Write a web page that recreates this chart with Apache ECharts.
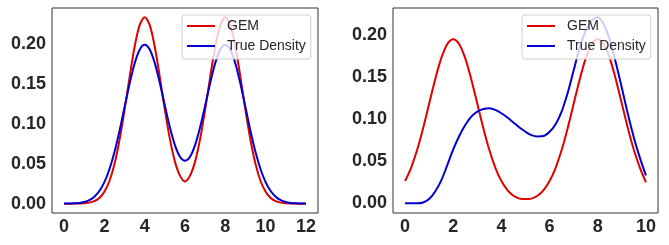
<!DOCTYPE html>
<html>
<head>
<meta charset="utf-8">
<script src="https://cdn.jsdelivr.net/npm/echarts@6/dist/echarts.min.js"></script>
<style>
  html, body { margin: 0; padding: 0; background: #fff; }
  #chart { width: 669px; height: 245px; }
</style>
</head>
<body>
<div id="chart"></div>
<script>
// left panel: x from 0 to 12, step 0.25
var leftX = [];
for (var i = 0; i <= 48; i++) leftX.push(i * 0.25);
var leftGem = [0, 0, 0.0001, 0.0002, 0.0005, 0.0013, 0.0032, 0.0072, 0.0150, 0.0285, 0.0498, 0.0800,
  0.1177, 0.1589, 0.1970, 0.2242, 0.2340, 0.2242, 0.1970, 0.1589, 0.1182, 0.0813, 0.0528, 0.0352,
  0.0280, 0.0352, 0.0528, 0.0813, 0.1182, 0.1589, 0.1970, 0.2242, 0.2340, 0.2242, 0.1970, 0.1589,
  0.1177, 0.0800, 0.0498, 0.0285, 0.0150, 0.0072, 0.0032, 0.0013, 0.0005, 0.0002, 0.0001, 0, 0];
var leftTrue = [0.0001, 0.0002, 0.0004, 0.0010, 0.0022, 0.0045, 0.0088, 0.0159, 0.0270, 0.0432, 0.0648, 0.0913,
  0.1210, 0.1506, 0.1761, 0.1934, 0.1996, 0.1935, 0.1765, 0.1516, 0.1232, 0.0959, 0.0735, 0.0590,
  0.0540, 0.0590, 0.0735, 0.0959, 0.1232, 0.1516, 0.1765, 0.1935, 0.1996, 0.1934, 0.1761, 0.1506,
  0.1210, 0.0913, 0.0648, 0.0432, 0.0270, 0.0159, 0.0088, 0.0045, 0.0022, 0.0010, 0.0004, 0.0002, 0.0001];

// right panel: x from 0 to 10, step 0.25
var rightX = [];
for (var j = 0; j <= 40; j++) rightX.push(j * 0.25);
var rightGem = [0.0264, 0.0422, 0.0633, 0.0893, 0.1183, 0.1472, 0.1721, 0.1890, 0.1950, 0.1890, 0.1721, 0.1472,
  0.1183, 0.0893, 0.0633, 0.0422, 0.0264, 0.0157, 0.0090, 0.0056, 0.0050, 0.0056, 0.0090, 0.0157,
  0.0264, 0.0422, 0.0633, 0.0893, 0.1183, 0.1472, 0.1721, 0.1890, 0.1950, 0.1890, 0.1721, 0.1472,
  0.1183, 0.0893, 0.0633, 0.0422, 0.0250];
var rightTrue = [0, 0, 0, 0.001, 0.005, 0.014, 0.027, 0.045, 0.064, 0.080, 0.093, 0.103,
  0.109, 0.112, 0.113, 0.111, 0.107, 0.102, 0.096, 0.090, 0.085, 0.081, 0.0795, 0.080,
  0.085, 0.094, 0.109, 0.131, 0.158, 0.185, 0.205, 0.217, 0.221, 0.2125, 0.194, 0.167,
  0.137, 0.106, 0.078, 0.054, 0.033];

var leftXTicks = [0, 2, 4, 6, 8, 10, 12];
var rightXTicks = [0, 2, 4, 6, 8, 10];
var yTicks = [0, 0.05, 0.10, 0.15, 0.20];
var seriesNames = ['GEM', 'True Density'];

function pairs(xs, ys) {
  return xs.map(function (x, k) { return [x, ys[k]]; });
}

var dom = document.getElementById('chart');
var myChart = echarts.init(dom);
var labelFont = { fontSize: 18, fontWeight: 'bold', color: '#262626', fontFamily: 'Liberation Sans, Arial, sans-serif' };

function xAxisOf(idx, min, max, ticks) {
  return {
    gridIndex: idx, type: 'value', min: min, max: max,
    axisLine: { show: false }, axisTick: { show: false }, splitLine: { show: false },
    axisLabel: Object.assign({ customValues: ticks, margin: 5 }, labelFont)
  };
}
function yAxisOf(idx, min, max) {
  return {
    gridIndex: idx, type: 'value', min: min, max: max,
    axisLine: { show: false }, axisTick: { show: false }, splitLine: { show: false },
    axisLabel: Object.assign({
      customValues: yTicks, margin: 6,
      formatter: function (v) { return v.toFixed(2); }
    }, labelFont)
  };
}
function legendOf(left) {
  return {
    orient: 'vertical', left: left, top: 15,
    data: seriesNames,
    icon: 'rect', itemWidth: 28, itemHeight: 2,
    itemGap: 6,
    padding: [4, 5, 6, 5],
    backgroundColor: 'rgba(255,255,255,0.8)',
    borderColor: '#d0d0d0', borderWidth: 1, borderRadius: 3,
    textStyle: { fontSize: 14, color: '#262626', lineHeight: 14, padding: [0, 0, 0, 7], fontFamily: 'Liberation Sans, Arial, sans-serif' }
  };
}
function line(name, color, xi, data) {
  return {
    name: name, type: 'line', xAxisIndex: xi, yAxisIndex: xi,
    data: data, showSymbol: false, smooth: 0.3, animation: false,
    lineStyle: { color: color, width: 2 }, itemStyle: { color: color }
  };
}

var option = {
  animation: false,
  grid: [
    { left: 52, right: 351, top: 8, bottom: 32, show: true, borderColor: '#333', borderWidth: 1, backgroundColor: '#fff' },
    { left: 393, right: 11, top: 8, bottom: 32, show: true, borderColor: '#333', borderWidth: 1, backgroundColor: '#fff' }
  ],
  xAxis: [xAxisOf(0, -0.6, 12.6, leftXTicks), xAxisOf(1, -0.5, 10.5, rightXTicks)],
  yAxis: [yAxisOf(0, -0.0117, 0.2457), yAxisOf(1, -0.0115, 0.232)],
  legend: [legendOf(182), legendOf(522)],
  series: [
    line('GEM', '#e00000', 0, pairs(leftX, leftGem)),
    line('True Density', '#0000d0', 0, pairs(leftX, leftTrue)),
    line('GEM', '#e00000', 1, pairs(rightX, rightGem)),
    line('True Density', '#0000d0', 1, pairs(rightX, rightTrue))
  ]
};
myChart.setOption(option);
</script>
</body>
</html>
